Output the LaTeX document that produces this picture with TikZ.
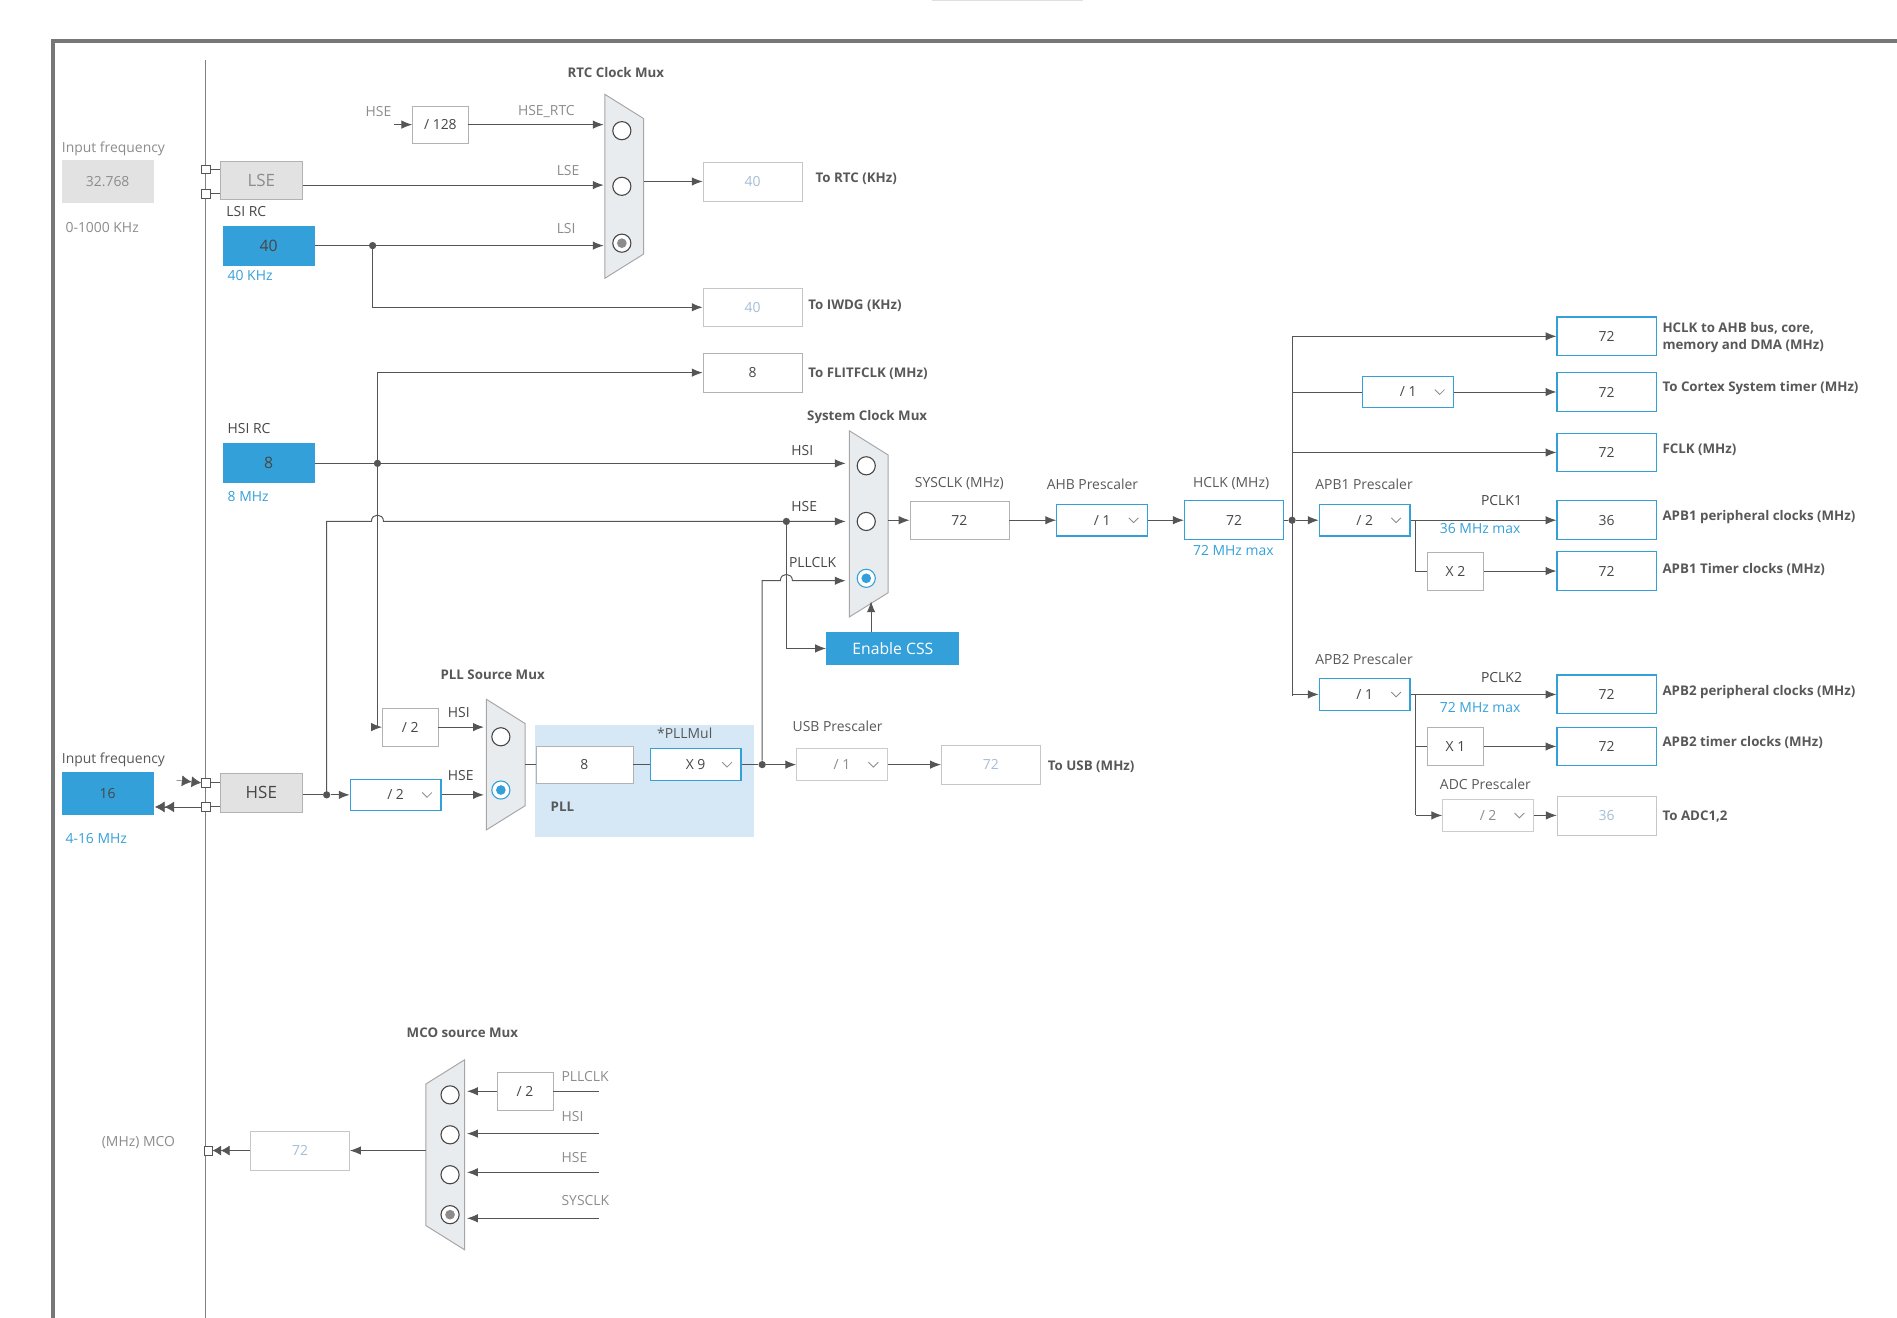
\documentclass[tikz,border=0pt]{standalone}
\usepackage{fontspec}
\setmainfont{Open Sans}
\usetikzlibrary{arrows.meta}
\definecolor{cblue}{RGB}{52,160,218}
\definecolor{gtxt}{RGB}{140,140,140}
\definecolor{dtxt}{RGB}{70,70,70}
\definecolor{lnc}{RGB}{85,85,85}
\definecolor{lgfill}{RGB}{226,226,226}
\definecolor{pllbg}{RGB}{214,232,246}
\definecolor{ltxt}{RGB}{165,190,212}
\definecolor{muxfill}{RGB}{232,236,239}
\tikzset{
 f/.style={font=\fontsize{11.5}{13}\selectfont},
 lbl/.style={f,text=gtxt,inner sep=0,anchor=west},
 blbl/.style={f,text=dtxt,inner sep=0,anchor=west},
 bl/.style={font=\fontsize{11}{14}\selectfont\bfseries,text=dtxt!90,inner sep=0,anchor=west,align=left},
 clbl/.style={f,text=cblue,inner sep=0,anchor=west},
 bx/.style={draw=gray!60,fill=white,minimum width=82,minimum height=32,inner sep=0,f,text=dtxt},
 dis/.style={bx,draw=gray!45,text=ltxt},
 selb/.style={draw=cblue,line width=1pt,fill=white,minimum width=75,minimum height=26,inner sep=0,f,text=dtxt},
 obx/.style={bx,draw=cblue,line width=1pt},
 sm/.style={draw=gray!60,fill=white,minimum width=46,minimum height=31,inner sep=0,f,text=dtxt},
 bfill/.style={fill=cblue,minimum width=76,minimum height=33,inner sep=0,f,text=dtxt,font=\fontsize{13}{14}\selectfont},
 ln/.style={draw=lnc,line width=0.8pt},
 ar/.style={ln,-{Latex[length=9pt,width=7pt]}},
 mux/.style={fill=muxfill,draw=gray!70,line width=0.8pt},
 rad/.style={circle,draw=dtxt,line width=0.9pt,fill=white,minimum size=15,inner sep=0},
 dot/.style={circle,fill=lnc,minimum size=6,inner sep=0},
 sq/.style={draw=lnc,fill=white,minimum size=7,inner sep=0},
}
\newcommand{\chev}[1]{\draw[gtxt,line width=0.7pt] ([xshift=-16pt,yshift=2pt]#1.east) -- ++(4,4) -- ++(4,-4);}
\begin{document}
\begin{tikzpicture}[x=1pt,y=-1pt]
\useasboundingbox (0,0) rectangle (1568,1089);
% frame
\draw[gray!25,line width=1pt] (770,0.5) -- (895,0.5);
\draw[lnc!80,line width=3pt] (44,1089) -- (44,34) -- (1568,34);
\draw[gray,line width=0.8pt] (170,50) -- (170,1089);
% LSE input
\node[lbl] at (51,123) {Input frequency};
\node[fill=lgfill,minimum width=76,minimum height=36,inner sep=0,f,text=gtxt] (lsein) at (89,150) {32.768};
\node[lbl] at (54,188) {0-1000 KHz};
\node[sq] (sq1) at (170,140) {};
\node[sq] (sq2) at (170,160) {};
\node[draw=gray!60,fill=lgfill,minimum width=68,minimum height=32,inner sep=0,font=\fontsize{14}{15}\selectfont,text=gtxt] (lse) at (216,149) {LSE};
\draw[ln] (sq1.east) -- (lse.west|-sq1); \draw[ln] (sq2.east) -- (lse.west|-sq2);
% LSI
\node[blbl] at (187,175) {LSI RC};
\node[bfill] (lsi) at (222,203) {40};
\node[clbl] at (188,228) {40 KHz};
% RTC mux
\node[bl] at (469,60) {RTC Clock Mux};
\draw[mux] (500,78) -- (532,98) -- (532,210) -- (500,230) -- cycle;
\node[rad] (r1) at (514,108) {};
\node[rad] (r2) at (514,154) {};
\node[rad] (r3) at (514,201) {};
\fill[gtxt] (r3) circle (4);
\node[lbl] at (302,92) {HSE};
\node[sm] (d128) at (364,103) {/ 128};
\coordinate (hse0) at (326,103);
\draw[ar] (hse0) -- (d128.west);
\coordinate (m1) at (499,103); \coordinate (m2) at (499,153); \coordinate (m3) at (499,203);
\draw[ar] (d128.east) -- (m1); \node[lbl] at (428,92) {HSE\_RTC};
\draw[ar] (lse.east|-m2) -- (m2); \node[lbl] at (460,141) {LSE};
\draw[ar] (lsi.east) -- (m3); \node[lbl] at (460,189) {LSI};
\node[dot] (dlsi) at (308,203) {};
\node[dis] (rtc) at (622,150) {40};
\node[bl] at (674,148) {To RTC (KHz)};
\draw[ar] (532,0|-rtc) -- (rtc.west);
\node[dis] (iwdg) at (622,254) {40};
\node[bl] at (668,253) {To IWDG (KHz)};
\draw[ar] (dlsi) -- (dlsi|-iwdg) -- (iwdg.west);
% FLITF
\node[bx] (flit) at (622,308) {8};
\node[bl] at (668,309) {To FLITFCLK (MHz)};
% HSI
\node[blbl] at (188,354) {HSI RC};
\node[bfill] (hsi) at (222,383) {8};
\node[clbl] at (188,410) {8 MHz};
\node[dot] (dhsi) at (312,383) {};
\draw[ar] (312,601) -- (312,308) -- (flit.west);
% System mux
\node[bl] at (667,345) {System Clock Mux};
\draw[mux] (702,356) -- (734,376) -- (734,490) -- (702,510) -- cycle;
\node[rad] (s1) at (716,385) {};
\node[rad] (s2) at (716,431) {};
\node[rad,draw=cblue] (s3) at (716,478) {};
\fill[cblue] (s3) circle (4);
\coordinate (sm1) at (699,383); \coordinate (sm2) at (699,431); \coordinate (sm3) at (699,480);
\draw[ar] (hsi.east) -- (sm1); \node[blbl] at (654,372) {HSI};
\draw[ar] (270,657) -- (270,431) -- (307,431) .. controls (307,424) and (317,424) .. (317,431) -- (sm2);
\node[blbl] at (654,419) {HSE};
\node[dot] (dhse) at (650,431) {};
\node[fill=cblue,minimum width=110,minimum height=27,inner sep=0,font=\fontsize{13}{14}\selectfont,text=white] (css) at (738,536) {Enable CSS};
\draw[ar] (dhse) -- (650,0|-css) -- (css.west);
\draw[ar] (css.north-|720,0) -- (720,497);
\node[dot] (dpll) at (630,632) {};
\draw[ar] (dpll) -- (630,480) -- (645,480) .. controls (645,473) and (655,473) .. (655,480) -- (sm3);
\node[blbl] at (652,465) {PLLCLK};
% SYSCLK chain
\node[bx] (sys) at (793,430) {72};
\node[lbl,text=dtxt!90] at (756,400) {SYSCLK (MHz)};
\draw[ar] (734,430) -- (sys.west);
\node[selb] (ahb) at (911,430) {/ 1}; \chev{ahb}
\node[lbl,text=dtxt!90] at (865,400) {AHB Prescaler};
\draw[ar] (sys.east) -- (ahb.west);
\node[obx] (hclk) at (1020,430) {72};
\node[lbl,text=dtxt!90] at (986,400) {HCLK (MHz)};
\node[clbl] at (986,455) {72 MHz max};
\draw[ar] (ahb.east) -- (hclk.west);
\node[dot] (dh) at (1068,430) {};
\draw[ln] (hclk.east) -- (dh);
\draw[ln] (1068,278) -- (1068,575);
% outputs
\node[obx] (o1) at (1328,278) {72};
\node[bl] at (1374,279) {HCLK to AHB bus, core,\\memory and DMA (MHz)};
\draw[ar] (dh|-o1) -- (o1.west);
\node[selb] (cx) at (1164,324) {/ 1}; \chev{cx}
\node[obx] (o2) at (1328,324) {72};
\node[bl] at (1374,321) {To Cortex System timer (MHz)};
\draw[ln] (dh|-cx) -- (cx.west); \draw[ar] (cx.east) -- (o2.west);
\node[obx] (o3) at (1328,374) {72};
\node[bl] at (1374,372) {FCLK (MHz)};
\draw[ar] (dh|-o3) -- (o3.west);
% APB1
\node[lbl,text=dtxt!90] at (1087,400) {APB1 Prescaler};
\node[selb] (apb1) at (1128,430) {/ 2}; \chev{apb1}
\draw[ar] (dh) -- (apb1.west);
\node[obx] (o4) at (1328,430) {36};
\node[bl] at (1374,427) {APB1 peripheral clocks (MHz)};
\draw[ar] (apb1.east) -- (o4.west);
\node[blbl] at (1224,414) {PCLK1};
\node[clbl] at (1190,437) {36 MHz max};
\node[sm] (x2) at (1203,472) {X 2};
\node[obx] (o5) at (1328,472) {72};
\node[bl] at (1374,471) {APB1 Timer clocks (MHz)};
\draw[ln] (1170,430) -- (1170,472) -- (x2.west);
\draw[ar] (x2.east) -- (o5.west);
% APB2
\node[lbl,text=dtxt!90] at (1087,545) {APB2 Prescaler};
\node[selb] (apb2) at (1128,574) {/ 1}; \chev{apb2}
\draw[ar] (1068,574) -- (apb2.west);
\node[obx] (o6) at (1328,574) {72};
\node[bl] at (1374,572) {APB2 peripheral clocks (MHz)};
\draw[ar] (apb2.east) -- (o6.west);
\node[blbl] at (1224,560) {PCLK2};
\node[clbl] at (1190,585) {72 MHz max};
\node[sm] (x1) at (1203,617) {X 1};
\node[obx] (o7) at (1328,617) {72};
\node[bl] at (1374,614) {APB2 timer clocks (MHz)};
\draw[ln] (1170,574) -- (1170,674);
\draw[ln] (1170,617) -- (x1.west);
\draw[ar] (x1.east) -- (o7.west);
\node[lbl,text=dtxt!90] at (1190,648) {ADC Prescaler};
\node[selb,draw=gray!40,line width=0.8pt,text=gtxt] (adc) at (1230,674) {/ 2}; \chev{adc}
\draw[ar] (1170,674) -- (adc.west);
\node[dis] (o8) at (1328,674) {36};
\node[bl] at (1374,675) {To ADC1,2};
\draw[ar] (adc.east) -- (o8.west);
% PLL
\fill[pllbg] (442,599) rectangle (623,692);
\node[bl] at (455,667) {PLL};
\node[bx,minimum width=80,minimum height=31] (pin) at (483,632) {8};
\node[lbl,text=dtxt!90] at (543,606) {*PLLMul};
\node[selb] (mul) at (575,632) {X 9}; \chev{mul}
\draw[ln] (pin.east) -- (mul.west);
\draw[ln] (mul.east) -- (dpll);
\node[lbl,text=dtxt!90] at (655,600) {USB Prescaler};
\node[selb,draw=gray!40,line width=0.8pt,text=gtxt] (usb) at (696,632) {/ 1}; \chev{usb}
\draw[ar] (dpll) -- (usb.west);
\node[dis] (usbo) at (819,632) {72};
\node[bl] at (866,634) {To USB (MHz)};
\draw[ar] (usb.east) -- (usbo.west);
% PLL source mux
\node[bl] at (364,558) {PLL Source Mux};
\draw[mux] (402,578) -- (434,598) -- (434,666) -- (402,686) -- cycle;
\node[rad] (p1) at (414,609) {};
\node[rad,draw=cblue] (p2) at (414,653) {};
\fill[cblue] (p2) circle (4);
\draw[ln] (434,632) -- (pin.west);
\node[sm] (h2) at (339,601) {/ 2};
\draw[ar] (312,601) -- (h2.west);
\draw[ar] (h2.east) -- (400,601);
\node[blbl] at (370,589) {HSI};
% HSE input
\node[lbl,text=dtxt!90] at (51,628) {Input frequency};
\node[fill=cblue,minimum width=76,minimum height=36,inner sep=0,f,text=dtxt] (hsein) at (89,656) {16};
\node[clbl] at (54,693) {4-16 MHz};
\node[sq] (sq3) at (170,647) {};
\node[sq] (sq4) at (170,667) {};
\draw[draw=lnc,-{Latex[length=8pt,width=9pt]Latex[length=8pt,width=9pt]}] (146,645) -- (sq3.west);
\draw[draw=lnc,-{Latex[length=8pt,width=9pt]Latex[length=8pt,width=9pt]}] (sq4.west) -- (128,667);
\node[draw=gray!60,fill=lgfill,minimum width=68,minimum height=32,inner sep=0,font=\fontsize{14}{15}\selectfont,text=dtxt] (hse) at (216,655) {HSE};
\draw[ln] (sq3.east) -- (hse.west|-sq3); \draw[ln] (sq4.east) -- (hse.west|-sq4);
\node[dot] (dh2) at (270,657) {};
\node[selb] (hd2) at (327,657) {/ 2}; \chev{hd2}
\draw[ln] (hse.east|-dh2) -- (dh2);
\draw[ar] (dh2) -- (hd2.west);
\draw[ar] (hd2.east) -- (400,657);
\node[blbl] at (370,641) {HSE};
% MCO
\node[bl] at (336,854) {MCO source Mux};
\draw[mux] (352,896) -- (384,876) -- (384,1033) -- (352,1013) -- cycle;
\node[rad] (c1) at (372,905) {};
\node[rad] (c2) at (372,938) {};
\node[rad] (c3) at (372,971) {};
\node[rad] (c4) at (372,1004) {};
\fill[gtxt] (c4) circle (4);
\node[sm] (md2) at (434,902) {/ 2};
\draw[ln] (495,902) -- (md2.east);
\draw[ar] (md2.west) -- (386,902);
\node[lbl] at (464,890) {PLLCLK};
\draw[ar] (495,937) -- (386,937); \node[lbl] at (464,923) {HSI};
\draw[ar] (495,969) -- (386,969); \node[lbl] at (464,957) {HSE};
\draw[ar] (495,1007) -- (386,1007); \node[lbl] at (464,992) {SYSCLK};
\node[dis] (mco) at (248,951) {72};
\draw[ar] (352,951) -- (mco.east);
\node[sq] (sq5) at (172,951) {};
\draw[draw=lnc,-{Latex[length=7pt,width=8pt]Latex[length=7pt,width=8pt]}] (mco.west) -- (sq5.east);
\node[lbl] at (84,944) {(MHz) MCO};
\end{tikzpicture}
\end{document}
